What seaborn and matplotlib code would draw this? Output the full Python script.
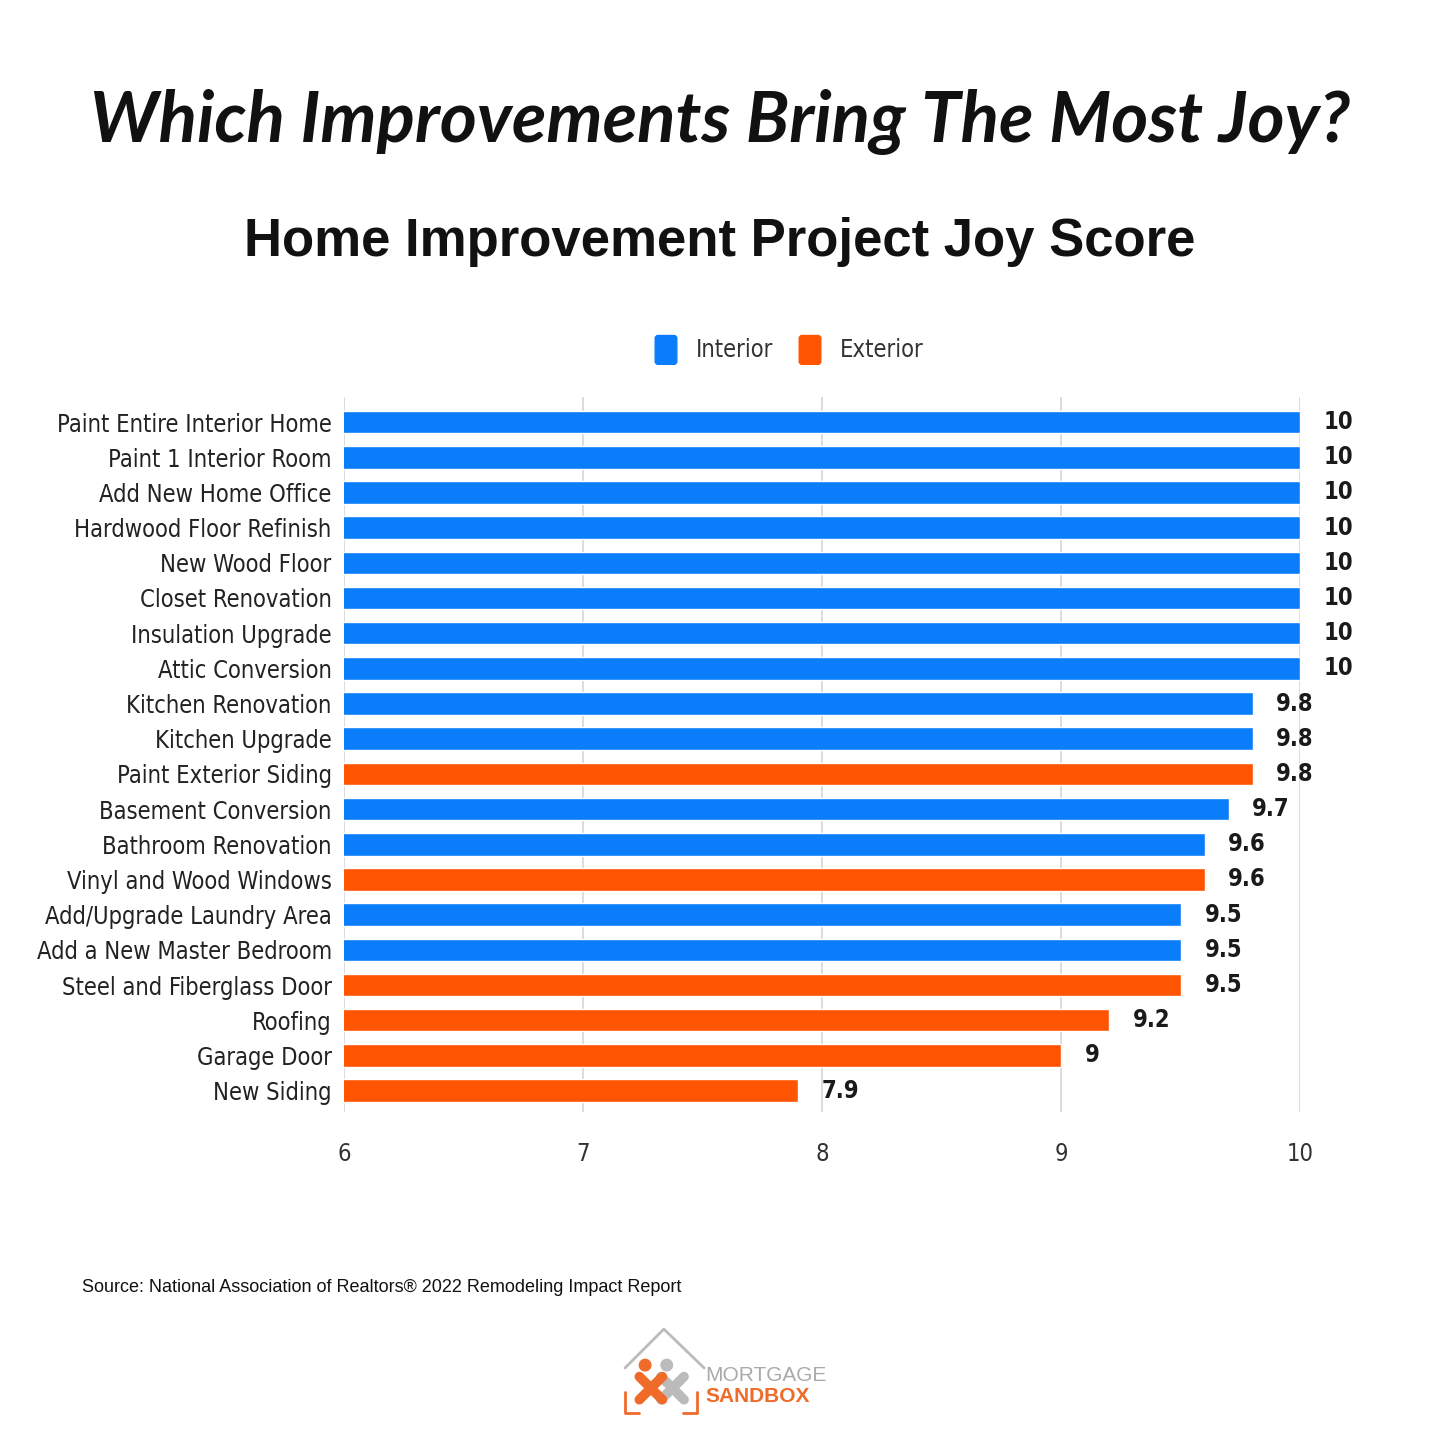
import matplotlib
matplotlib.use('Agg')
import matplotlib.pyplot as plt
import seaborn as sns
import pandas as pd
from matplotlib.patches import FancyBboxPatch, Circle
from matplotlib.lines import Line2D
from matplotlib import font_manager
from matplotlib.font_manager import FontProperties

# data
projects = [
    'Paint Entire Interior Home', 'Paint 1 Interior Room', 'Add New Home Office',
    'Hardwood Floor Refinish', 'New Wood Floor', 'Closet Renovation',
    'Insulation Upgrade', 'Attic Conversion', 'Kitchen Renovation',
    'Kitchen Upgrade', 'Paint Exterior Siding', 'Basement Conversion',
    'Bathroom Renovation', 'Vinyl and Wood Windows', 'Add/Upgrade Laundry Area',
    'Add a New Master Bedroom', 'Steel and Fiberglass Door', 'Roofing',
    'Garage Door', 'New Siding',
]
scores = [10, 10, 10, 10, 10, 10, 10, 10, 9.8, 9.8, 9.8, 9.7, 9.6, 9.6,
          9.5, 9.5, 9.5, 9.2, 9, 7.9]
kind = ['Interior'] * 10 + ['Exterior', 'Interior', 'Interior', 'Exterior',
                            'Interior', 'Interior', 'Exterior', 'Exterior',
                            'Exterior', 'Exterior']
x_ticks = [6, 7, 8, 9, 10]

BLUE = '#0a7dfb'
ORANGE = '#ff5400'

df = pd.DataFrame({'project': projects, 'score': scores, 'kind': kind})

# look for a condensed / narrow font on the system
narrow_path = None
narrow_bold_path = None
for f in font_manager.fontManager.ttflist:
    tag = (f.name + ' ' + str(f.stretch)).lower()
    if 'narrow' in tag or 'condensed' in tag:
        if f.style != 'normal':
            continue
        if f.weight in ('bold', 700):
            narrow_bold_path = narrow_bold_path or f.fname
        elif f.weight in ('normal', 'regular', 400):
            narrow_path = narrow_path or f.fname

if narrow_path:
    fp_lab = FontProperties(fname=narrow_path, size=17)
    fp_tick = FontProperties(fname=narrow_path, size=17)
    fp_leg = FontProperties(fname=narrow_path, size=17)
else:
    fp_lab = FontProperties(family='Liberation Sans', size=14)
    fp_tick = FontProperties(family='Liberation Sans', size=16)
    fp_leg = FontProperties(family='Liberation Sans', size=16)
if narrow_bold_path:
    fp_val = FontProperties(fname=narrow_bold_path, size=17)
else:
    fp_val = FontProperties(family='Liberation Sans', weight='bold', size=15)

sns.set_theme(style='white')
plt.rcParams['font.family'] = ['Liberation Sans', 'DejaVu Sans']

fig = plt.figure(figsize=(14.4, 14.4), dpi=100)
ax = fig.add_axes([0.239, 0.228, 0.664, 0.496])

sns.barplot(data=df, y='project', x='score', hue='kind', dodge=False,
            palette={'Interior': BLUE, 'Exterior': ORANGE},
            hue_order=['Interior', 'Exterior'], width=0.64, ax=ax,
            legend=False, saturation=1)

ax.set_xlim(6, 10)
ax.set_ylim(19.6, -0.7)
ax.set_xticks(x_ticks)
ax.set_xticklabels([str(t) for t in x_ticks], color='#333333', fontproperties=fp_tick)
ax.tick_params(axis='x', length=0, pad=22)
ax.tick_params(axis='y', length=0, pad=9)
for lab in ax.get_yticklabels():
    lab.set_fontproperties(fp_lab)
    lab.set_color('#222222')
ax.set_xlabel('')
ax.set_ylabel('')
for s in ax.spines.values():
    s.set_visible(False)
ax.grid(axis='x', color='#d6d6d6', lw=1.2)
ax.set_axisbelow(True)

for c in ax.containers:
    ax.bar_label(c, labels=[('%g' % v) if v == v else '' for v in c.datavalues],
                 padding=17, color='#1a1a1a', fontproperties=fp_val)

# titles
fig.text(0.5, 0.915, 'Which Improvements Bring The Most Joy?', ha='center',
         va='center', fontsize=51, style='italic', fontweight='bold',
         family=['Lato', 'DejaVu Sans'], color='#111111')
fig.text(0.5, 0.832, 'Home Improvement Project Joy Score', ha='center',
         va='center', fontsize=38, fontweight='bold', color='#111111')

# legend
for x0, col, lab in [(0.455, BLUE, 'Interior'), (0.555, ORANGE, 'Exterior')]:
    fig.patches.append(FancyBboxPatch((x0, 0.747), 0.015, 0.02,
                                      boxstyle='round,pad=0,rounding_size=0.002',
                                      transform=fig.transFigure, color=col))
    fig.text(x0 + 0.028, 0.757, lab, va='center', ha='left',
             color='#333333', fontproperties=fp_leg)

fig.text(0.057, 0.106, 'Source: National Association of Realtors\u00ae 2022 Remodeling Impact Report',
         fontsize=13, color='#111111', va='center')

# logo
LOGO_OR = '#f06a2a'
LOGO_GR = '#bbbbbb'
tf = fig.transFigure
fig.lines.append(Line2D([0.434, 0.461, 0.489], [0.050, 0.077, 0.050],
                        transform=tf, color=LOGO_GR, lw=2))
fig.lines.append(Line2D([0.434, 0.434, 0.444], [0.033, 0.019, 0.019],
                        transform=tf, color=LOGO_OR, lw=2))
fig.lines.append(Line2D([0.474, 0.484, 0.484], [0.019, 0.019, 0.033],
                        transform=tf, color=LOGO_OR, lw=2))
for cx, col in [(0.467, LOGO_GR), (0.452, LOGO_OR)]:
    fig.lines.append(Line2D([cx - 0.008, cx + 0.008], [0.028, 0.044],
                            transform=tf, color=col, lw=7, solid_capstyle='round'))
    fig.lines.append(Line2D([cx - 0.008, cx + 0.008], [0.044, 0.028],
                            transform=tf, color=col, lw=7, solid_capstyle='round'))
    fig.patches.append(Circle((cx - 0.004, 0.052), 0.004, transform=tf, color=col))
fig.text(0.490, 0.045, 'MORTGAGE', fontsize=15, color='#aaaaaa', va='center')
fig.text(0.490, 0.030, 'SANDBOX', fontsize=15, color=LOGO_OR, va='center',
         fontweight='bold')

fig.savefig('out.png', dpi=100, facecolor='white')
